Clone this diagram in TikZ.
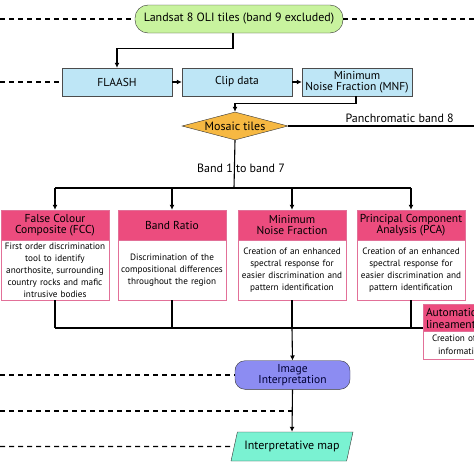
\documentclass[tikz,border=0pt]{standalone}
\usepackage{fontspec}
\setmainfont{PT Sans}
\usetikzlibrary{shapes.geometric,arrows.meta}

\definecolor{startgreen}{RGB}{200,243,158}
\definecolor{procblue}{RGB}{190,230,246}
\definecolor{mosaicorange}{RGB}{246,184,66}
\definecolor{headpink}{RGB}{236,76,126}
\definecolor{pinkline}{RGB}{226,112,152}
\definecolor{interpviolet}{RGB}{140,140,242}
\definecolor{mapaqua}{RGB}{122,242,210}

\begin{document}
\begin{tikzpicture}[x=1pt,y=-1pt,
    start/.style={draw=black!80,fill=startgreen,rounded corners=13pt,minimum width=208pt,minimum height=28pt,font=\fontsize{12}{12}\selectfont},
    proc/.style={draw=black!70,fill=procblue,minimum width=110pt,minimum height=28pt,inner sep=1pt,align=center,font=\fontsize{11.5}{10.5}\selectfont},
    head/.style={draw=pinkline,fill=headpink,minimum width=108pt,minimum height=30pt,inner sep=1pt,align=center,font=\fontsize{11.5}{11.5}\selectfont},
    body/.style={draw=pinkline,fill=white,text width=104pt,minimum height=60pt,inner sep=2pt,align=center,font=\fontsize{9.2}{12}\selectfont},
    lbl/.style={font=\fontsize{12}{12}\selectfont},
    arr/.style={-{Latex[length=5pt,width=5pt]},line width=1.1pt},
    link/.style={line width=1.1pt},
    guide/.style={line width=1.1pt,dash pattern=on 5pt off 4pt}]

    \useasboundingbox (0,0) rectangle (474,474);
    \clip (0,0) rectangle (474,474);

    % Input and preprocessing
    \node[start] (landsat) at (239,19) {Landsat 8 OLI tiles (band 9 excluded)};
    \node[proc] (flaash) at (117,82) {FLAASH};
    \node[proc] (clipdata) at (237,82) {Clip data};
    \node[proc] (mnf) at (357,82) {Minimum\\Noise Fraction (MNF)};
    \node[diamond,draw=black!80,fill=mosaicorange,aspect=3.8,minimum width=106pt,minimum height=28pt,inner sep=0pt,lbl] (mosaic) at (235,126) {Mosaic tiles};

    \draw[arr] ([xshift=-6pt]landsat.south) -- ++(0,15) -| (flaash.north);
    \draw[arr] (flaash) -- (clipdata);
    \draw[arr] (clipdata) -- (mnf);
    \draw[arr] ([xshift=-1pt]mnf.south) -- ++(0,7) -| (mosaic.north);

    % Panchromatic band
    \coordinate (panend) at (474,126);
    \draw[link] (mosaic.east) -- (panend) node[pos=0.6,above=-1pt,lbl] (panlabel) {Panchromatic band 8};

    % Band 1 to band 7
    \coordinate (split) at (234,188);
    \draw[link] (mosaic.south) -- (split);
    \node[lbl] (bandlabel) at (241,168) {Band 1 to band 7};

    % Processing techniques
    \node[head] (fcc) at (55,225) {False Colour\\Composite (FCC)};
    \node[body] (fccbody) at (55,270) {First order discrimination\\tool to identify\\anorthosite, surrounding\\country rocks and mafic\\intrusive bodies};
    \node[head] (ratio) at (172,225) {Band Ratio};
    \node[body] (ratiobody) at (172,270) {Discrimination of the\\compositional differences\\throughout the region};
    \node[head] (mnfhead) at (292,225) {Minimum\\Noise Fraction};
    \node[body] (mnfbody) at (292,270) {Creation of an enhanced\\spectral response for\\easier discrimination and\\pattern identification};
    \node[head] (pca) at (411,225) {Principal Component\\Analysis (PCA)};
    \node[body] (pcabody) at (411,270) {Creation of an enhanced\\spectral response for\\easier discrimination and\\pattern identification};
    \node[head,minimum height=29pt,text width=102pt,inner sep=3pt,align=left] (autolin) at (477,318.5) {Automatic\\lineaments};
    \node[body,minimum height=24pt,text width=100pt,inner sep=4pt,align=left,font=\fontsize{9.2}{13}\selectfont] (autobody) at (477,345) {\hspace{5pt}Creation of\\\hspace{11pt}information};

    \draw[link] (fcc.north |- split) -- (pca.north |- split);
    \foreach \n in {fcc,ratio,mnfhead,pca}
        \draw[arr] (\n.north |- split) -- (\n.north);

    % Merge
    \coordinate (merge) at (292,328);
    \foreach \n in {fccbody,ratiobody,mnfbody,pcabody}
        \draw[link] (\n.south) -- (\n.south |- merge);
    \draw[link] (fccbody.south |- merge) -- (merge -| autolin.west);

    % Output
    \node[draw=black!80,fill=interpviolet,rounded corners=10pt,minimum width=115pt,minimum height=28pt,align=center,text=blue!20!black,font=\fontsize{11.5}{10.5}\selectfont] (interp) at (292.5,375) {Image\\Interpretation};
    \node[trapezium,trapezium left angle=70,trapezium right angle=110,trapezium stretches body,draw=black!80,fill=mapaqua,minimum width=122pt,minimum height=29pt,lbl] (map) at (292,446.5) {Interpretative map};

    \draw[arr] (merge) -- (interp.north);
    \draw[arr] (interp.south) -- (map.north);

    % Dashed guides
    \coordinate (lA) at (0,19);
    \coordinate (rA) at (474,19);
    \coordinate (lB) at (0,82);
    \coordinate (lC) at (0,375);
    \coordinate (lD) at (0,411);
    \coordinate (lE) at (0,446.5);
    \draw[guide] (lA) -- (landsat.west);
    \draw[guide] (landsat.east) -- (rA);
    \draw[guide] (lB) -- (flaash.west);
    \draw[guide] (lC) -- (interp.west);
    \draw[guide] (lD) -- (lD -| merge);
    \draw[guide] (lE) -- (map.west);
\end{tikzpicture}
\end{document}
